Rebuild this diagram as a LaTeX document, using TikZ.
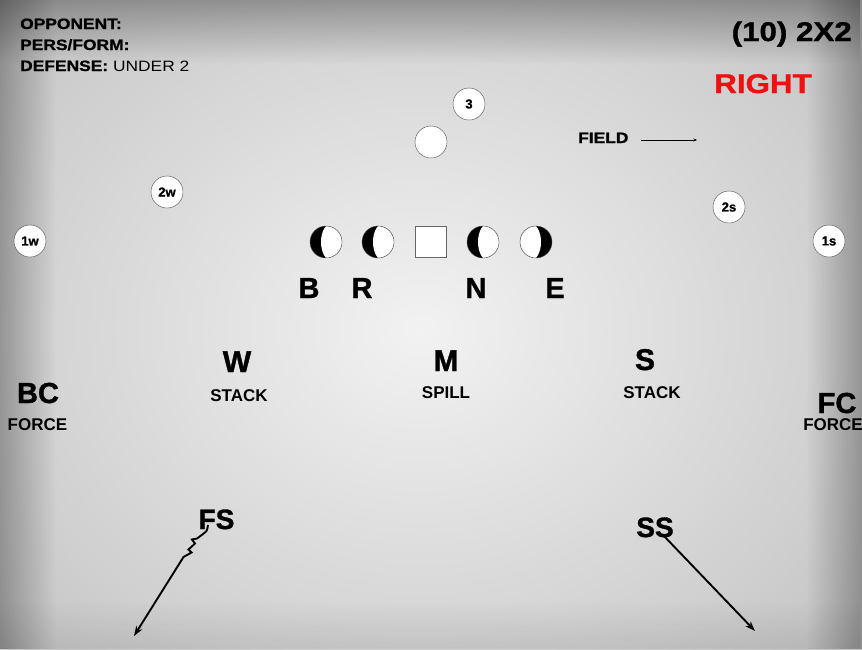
\documentclass[tikz,border=0pt]{standalone}
\usepackage{fontspec}
\setmainfont{Liberation Sans}
\newfontfamily\wideheavy[FakeStretch=1.16, BoldFeatures={FakeBold=1.2}]{Liberation Sans}
\newfontfamily\heavy[BoldFeatures={FakeBold=1.2}]{Liberation Sans}
\usetikzlibrary{fadings,arrows.meta}
\definecolor{turf}{HTML}{C2C2C2}
\definecolor{turflight}{HTML}{F2F2F2}
\definecolor{callred}{HTML}{F01010}

\tikzset{
	hdr/.style={font=\wideheavy\bfseries\fontsize{15}{15}\selectfont, inner sep=0pt},
	hdrbig/.style={font=\wideheavy\bfseries\fontsize{27}{27}\selectfont, inner sep=0pt},
	playerlbl/.style={font=\heavy\bfseries\fontsize{29}{29}\selectfont, inner sep=0pt, anchor=base},
	duty/.style={font=\bfseries\fontsize{17}{17}\selectfont, inner sep=0pt, anchor=base},
	rcv/.style={circle, draw=black!70, fill=white, minimum size=32pt, inner sep=0pt,
		font=\heavy\bfseries\fontsize{13}{13}\selectfont},
	dlleft/.style={circle, draw=black!70, fill=white, minimum size=32pt, inner sep=0pt,
		path picture={
			\fill[black] (path picture bounding box.south west) rectangle (path picture bounding box.north east);
			\fill[white] ([xshift=6pt]path picture bounding box.center) ellipse [x radius=11pt, y radius=19pt];
		}},
	dlright/.style={dlleft, path picture={
			\fill[black] (path picture bounding box.south west) rectangle (path picture bounding box.north east);
			\fill[white] ([xshift=-6pt]path picture bounding box.center) ellipse [x radius=11pt, y radius=19pt];
		}},
	ctr/.style={rectangle, draw=black!60, fill=white, minimum size=31pt, inner sep=0pt},
	route/.style={line width=1.9pt, -{Stealth[length=10pt,width=7pt]}}
}

\begin{document}
\begin{tikzpicture}[x=1pt,y=-1pt]
	\useasboundingbox (0,0) rectangle (862,649);
	% field
	\begin{scope}
		\clip (0,0) rectangle (862,649);
		\fill[turf] (0,0) rectangle (862,649);
		\shade[inner color=turflight, outer color=turf] (-180,-170) rectangle (1020,830);
		\fill[black, fill opacity=0.3, path fading=south] (0,0) rectangle (862,64);
		\fill[black, fill opacity=0.08, path fading=north] (0,600) rectangle (862,649);
		\fill[black, fill opacity=0.28, path fading=east] (0,0) rectangle (56,649);
		\fill[black, fill opacity=0.28, path fading=west] (806,0) rectangle (862,649);
	\end{scope}

	% header
	\node[hdr, anchor=base west] (opp) at (20,29) {OPPONENT:};
	\node[hdr, anchor=base west] (pers) at (20,50) {PERS/FORM:};
	\node[hdr, anchor=base west] (def) at (20,71) {DEFENSE: {\mdseries UNDER 2}};
	\node[hdrbig, anchor=base east] (formtag) at (852,41) {(10) 2X2};
	\node[hdrbig, text=callred, anchor=base] (sidetag) at (763,93) {RIGHT};
	\node[hdr, anchor=base west] (fieldtag) at (578,143) {FIELD};
	\coordinate (fieldtail) at (641,140);
	\coordinate (fieldtip) at (697,140);
	\draw[line width=0.8pt, -{Stealth[length=3.5pt,width=3pt]}] (fieldtail) -- (fieldtip);

	% offense
	\node[rcv] (r3) at (469,104) {3};
	\node[rcv] (qb) at (431,142) {};
	\node[rcv] (r2w) at (167,192) {2w};
	\node[rcv] (r1w) at (30,241) {1w};
	\node[rcv] (r2s) at (729,207) {2s};
	\node[rcv] (r1s) at (829,241) {1s};

	% front
	\node[dlleft] (dB) at (326,242) {};
	\node[dlleft] (dR) at (378,242) {};
	\node[ctr] (dC) at (431,242) {};
	\node[dlleft] (dN) at (483,242) {};
	\node[dlright] (dE) at (536,242) {};
	\node[playerlbl] (lB) at (309,298) {B};
	\node[playerlbl] (lR) at (362,298) {R};
	\node[playerlbl] (lN) at (476,298) {N};
	\node[playerlbl] (lE) at (555,298) {E};

	% second level
	\node[playerlbl, font=\heavy\bfseries\fontsize{30}{30}\selectfont] (lW) at (237,372) {W};
	\node[duty] (dW) at (239,401) {STACK};
	\node[playerlbl, font=\heavy\bfseries\fontsize{30}{30}\selectfont] (lM) at (446,371) {M};
	\node[duty] (dM) at (446,398) {SPILL};
	\node[playerlbl, font=\heavy\bfseries\fontsize{30}{30}\selectfont] (lS) at (645,370) {S};
	\node[duty] (dS) at (652,398) {STACK};
	\node[playerlbl] (lBC) at (38,403) {BC};
	\node[duty] (dBC) at (37.5,430) {FORCE};
	\node[playerlbl] (lFC) at (837,413) {FC};
	\node[duty] (dFC) at (833,430) {FORCE};

	% safeties
	\node[playerlbl, font=\heavy\bfseries\fontsize{28}{28}\selectfont] (lFS) at (216.5,529) {FS};
	\node[playerlbl, font=\heavy\bfseries\fontsize{28}{28}\selectfont] (lSS) at (655,537) {SS};
	\coordinate (fsroot) at (208,525);
	\coordinate (fsdeep) at (134,636);
	\coordinate (ssroot) at (663,535);
	\coordinate (ssdeep) at (755,631);
	\draw[route] (fsroot) .. controls (207,531) .. (203,534) -- (197,538.5) -- (192,539.5) -- (195,543.5)
		-- (188.5,549.5) -- (191.5,552.5) -- (183.5,557) -- (fsdeep);
	\draw[route] (ssroot) -- (ssdeep);
\end{tikzpicture}
\end{document}
